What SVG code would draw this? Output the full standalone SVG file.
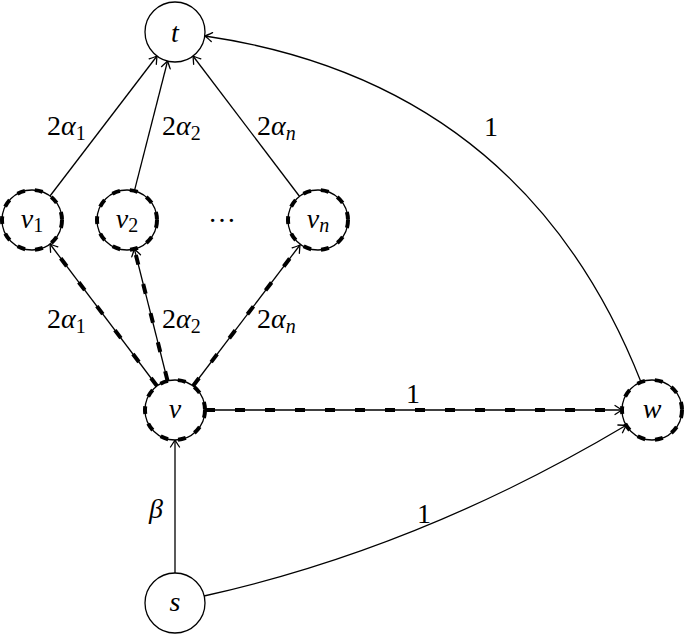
<svg xmlns="http://www.w3.org/2000/svg" width="685" height="634" viewBox="0 0 685 634">
<style>
.thin{fill:none;stroke:#000;stroke-width:1.3}
.dash{fill:none;stroke:#000;stroke-width:4;stroke-dasharray:10 20}
.cdash{fill:none;stroke:#000;stroke-width:4;stroke-dasharray:8 10}
.node{fill:#fff;stroke:#000;stroke-width:1.3}
.lbl{text-anchor:middle;font-style:italic}
.sub{font-size:20px;font-style:normal}
.it{font-style:italic}
</style>
<defs>
<marker id="arr" markerUnits="userSpaceOnUse" markerWidth="14" markerHeight="14" viewBox="-10 -7 12 14" refX="0" refY="0" orient="auto">
<path d="M-7,-4.5 Q-2,-1.2 0,0 Q-2,1.2 -7,4.5" fill="none" stroke="#000" stroke-width="1.3" stroke-linecap="round"/>
</marker>
</defs>
<rect width="685" height="634" fill="#fff"/>
<g id="connectors">
<line class="thin" x1="50" y1="196" x2="157" y2="56" marker-end="url(#arr)"/>
<line class="thin" x1="134.4" y1="190.9" x2="167.6" y2="61" marker-end="url(#arr)"/>
<line class="thin" x1="300" y1="197" x2="193" y2="56" marker-end="url(#arr)"/>
<line class="thin" x1="157" y1="386" x2="50" y2="244" marker-end="url(#arr)"/>
<line class="dash" x1="157" y1="386" x2="50" y2="244"/>
<line class="thin" x1="167.6" y1="381" x2="134.4" y2="249" marker-end="url(#arr)"/>
<line class="dash" x1="167.6" y1="381" x2="134.4" y2="249"/>
<line class="thin" x1="193" y1="386" x2="300" y2="245" marker-end="url(#arr)"/>
<line class="dash" x1="193" y1="386" x2="300" y2="245"/>
<line class="thin" x1="205" y1="410" x2="622" y2="410" marker-end="url(#arr)"/>
<line class="dash" x1="205" y1="410" x2="622" y2="410"/>
<line class="thin" x1="175" y1="573" x2="175" y2="440" marker-end="url(#arr)"/>
<path class="thin" d="M204,596 Q420,548 626.2,425.3" marker-end="url(#arr)"/>
<path class="thin" d="M641,382 Q523,83 205,36" marker-end="url(#arr)"/>
</g>
<g id="edge-labels" font-family="'Liberation Serif', 'Times New Roman', 'DejaVu Serif', serif" font-size="28" fill="#000">
<text x="47" y="135">2<tspan class="it">α</tspan><tspan class="sub" dy="5">1</tspan></text>
<text x="162" y="135">2<tspan class="it">α</tspan><tspan class="sub" dy="5">2</tspan></text>
<text x="257" y="135">2<tspan class="it">α</tspan><tspan class="sub it" dy="5">n</tspan></text>
<text x="47" y="328">2<tspan class="it">α</tspan><tspan class="sub" dy="5">1</tspan></text>
<text x="162" y="328">2<tspan class="it">α</tspan><tspan class="sub" dy="5">2</tspan></text>
<text x="257" y="328">2<tspan class="it">α</tspan><tspan class="sub it" dy="5">n</tspan></text>
<text class="lbl" x="156" y="518">β</text>
<text x="413" y="403" text-anchor="middle">1</text>
<text x="424" y="523" text-anchor="middle">1</text>
<text x="491" y="136" text-anchor="middle">1</text>
<text x="222" y="222" text-anchor="middle">…</text>
</g>
<g id="nodes" font-family="'Liberation Serif', 'Times New Roman', 'DejaVu Serif', serif" font-size="28" fill="#000">
<g id="node-t"><circle class="node" cx="175" cy="32" r="30"/><text class="lbl" x="175" y="42">t</text></g>
<g id="node-v1"><circle class="node" cx="32" cy="220" r="30"/><circle class="cdash" cx="32" cy="220" r="30"/><text class="lbl" x="32" y="228">v<tspan class="sub" dy="4">1</tspan></text></g>
<g id="node-v2"><circle class="node" cx="127" cy="220" r="30"/><circle class="cdash" cx="127" cy="220" r="30"/><text class="lbl" x="127" y="228">v<tspan class="sub" dy="4">2</tspan></text></g>
<g id="node-vn"><circle class="node" cx="318" cy="220" r="30"/><circle class="cdash" cx="318" cy="220" r="30"/><text class="lbl" x="318" y="228">v<tspan class="sub it" dy="4">n</tspan></text></g>
<g id="node-v"><circle class="node" cx="175" cy="410" r="30"/><circle class="cdash" cx="175" cy="410" r="30"/><text class="lbl" x="175" y="418">v</text></g>
<g id="node-w"><circle class="node" cx="652" cy="410" r="30"/><circle class="cdash" cx="652" cy="410" r="30"/><text class="lbl" x="652" y="418">w</text></g>
<g id="node-s"><circle class="node" cx="175" cy="603" r="30"/><text class="lbl" x="175" y="611">s</text></g>
</g>
</svg>
